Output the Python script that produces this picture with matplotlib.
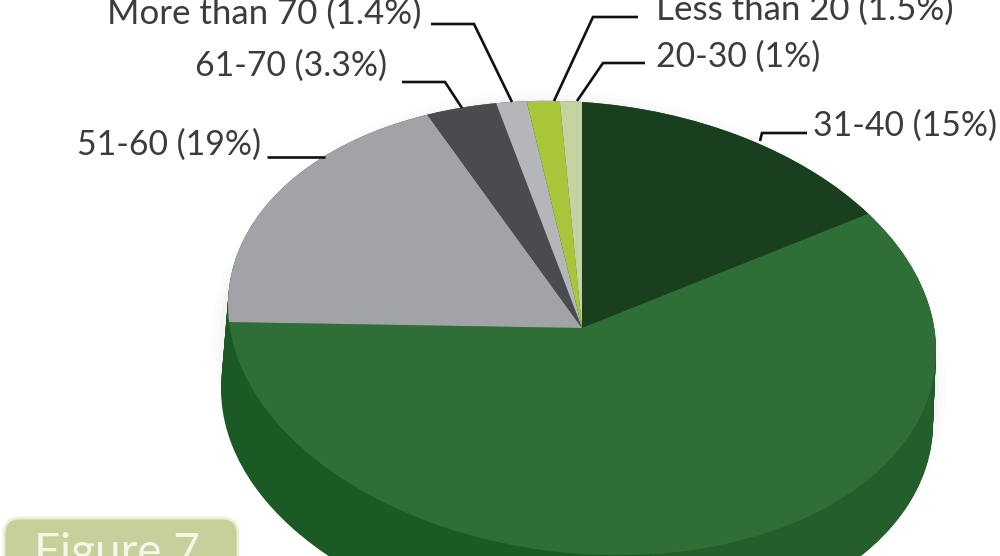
import matplotlib
matplotlib.use('Agg')
import matplotlib.pyplot as plt
from matplotlib.patches import Circle, Wedge, FancyBboxPatch
from matplotlib.transforms import Affine2D

plt.rcParams['font.family'] = ['Lato', 'DejaVu Sans']

# pie data, clockwise from 12 o'clock
categories = ['31-40', '41-50', '51-60', '61-70', 'More than 70', 'Less than 20', '20-30']
shares = [15, 58.8, 19, 3.3, 1.4, 1.5, 1]
colors = ['#1a3f1e', '#306e37', '#a2a3a7', '#4a4b4e', '#b5b6ba', '#a9c53a', '#c5d3a0']

# labels shown in the picture (41-50 is cut off in the original)
labels = ['More than 70 (1.4%)', '61-70 (3.3%)', '51-60 (19%)',
          'Less than 20 (1.5%)', '20-30 (1%)', '31-40 (15%)']
label_x = [107, 195, 77, 656, 656, 813]
label_y = [24, 76, 155, 20, 67, 136]
label_size = [25.1, 24.3, 24.3, 25.1, 24.3, 24.3]
leaders = [
    [(431, 24), (474, 24), (512, 102)],
    [(402, 82), (445, 82), (462, 108)],
    [(267, 157), (325, 157)],
    [(638, 17), (593, 17), (554, 101)],
    [(645, 63), (603, 63), (577, 101)],
    [(807, 133), (762, 133), (760, 141)],
]

fig = plt.figure(figsize=(10, 5.56), dpi=100)
ax = fig.add_axes([0, 0, 1, 1])
ax.set_xlim(0, 1000)
ax.set_ylim(556, 0)
ax.axis('off')


def disc(cx, cy, rx, ry, shear=23):
    # unit circle -> tilted ellipse in pixel coordinates
    return Affine2D.from_values(rx, shear, 0, -ry, cx, cy) + ax.transData


# soft halo round the body
for grow, a in [(12, 0.012), (8, 0.018), (4, 0.03)]:
    ax.add_patch(Circle((0, 0), 1, color='#777777', alpha=a, lw=0,
                        transform=disc(579, 365, 356 + grow, 262 + grow)))

# extruded side of the pie
steps = 24
for i in range(steps + 1):
    t = i / steps
    tr = disc(582 - 5 * t, 328 + 78 * t, 354 + 2 * t, 226, 23 - 6 * t)
    ax.add_patch(Circle((0, 0), 1, color='#1b5925', lw=0, transform=tr))
    ax.add_patch(Wedge((0, 0), 1, -72, 30, color='#245e2d', lw=0, transform=tr))

# top surface
wedges, _ = ax.pie(shares, colors=colors, startangle=90, counterclock=False,
                   wedgeprops={'linewidth': 0})
ax.set_aspect('auto')
ax.set_xlim(0, 1000)
ax.set_ylim(556, 0)
for w in wedges:
    w.set_transform(disc(582, 328, 354, 226))

# leader lines
for pts in leaders:
    ax.plot([p[0] for p in pts], [p[1] for p in pts], color='#111111', lw=1.9,
            solid_joinstyle='miter', solid_capstyle='butt')

for s, x, y, size in zip(labels, label_x, label_y, label_size):
    ax.text(x, y, s, fontsize=size, color='#3c3c3e', ha='left', va='baseline')

# Figure 7 tab, cut by the lower edge
ax.add_patch(FancyBboxPatch((16, 530), 222, 60, boxstyle='round,pad=0,rounding_size=16',
                            mutation_aspect=1, fc='#999999', ec='none', alpha=0.25))
ax.add_patch(FancyBboxPatch((4, 518), 234, 70, boxstyle='round,pad=0,rounding_size=16',
                            fc='#c5d09a', ec='#eeeed6', lw=2))
ax.text(117, 566, 'Figure 7', fontsize=33, color='#f6f6e8', ha='center', va='baseline')

fig.savefig('out.png', dpi=100)
